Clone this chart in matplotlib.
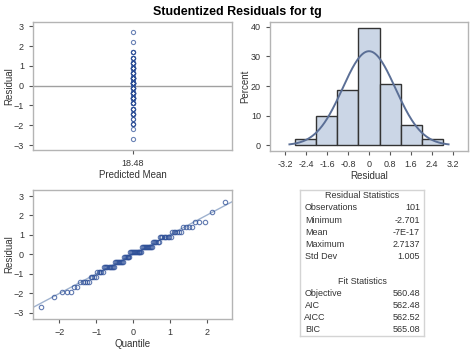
import statistics
import numpy as np
import matplotlib
matplotlib.use("Agg")
import matplotlib.pyplot as plt

plt.rcParams["font.family"] = ["Liberation Sans", "DejaVu Sans"]

# studentized residual levels and how many observations sit at each level
RESID_LEVELS = [-2.701, -2.187, -1.929, -1.671, -1.413, -1.156, -0.898, -0.640,
                -0.382, -0.124, 0.134, 0.392, 0.650, 0.908, 1.166, 1.424,
                1.682, 2.198, 2.7137]
RESID_COUNTS = [1, 1, 3, 2, 5, 4, 5, 10, 9, 7, 13, 11, 6, 9, 6, 4, 3, 1, 1]
PRED_MEAN = 18.48
RESID_SD = 1.005

HIST_EDGES = [-2.8, -2.0, -1.2, -0.4, 0.4, 1.2, 2.0, 2.8]
HIST_TICKS = [-3.2, -2.4, -1.6, -0.8, 0, 0.8, 1.6, 2.4, 3.2]

STAT_ROWS = [("Observations", "101"), ("Minimum", "-2.701"), ("Mean", "-7E-17"),
             ("Maximum", "2.7137"), ("Std Dev", "1.005")]
FIT_ROWS = [("Objective", "560.48"), ("AIC", "562.48"), ("AICC", "562.52"),
            ("BIC", "565.08")]

W, H = 474, 353
FRAME = "#b4b4b4"
TXT = "#333333"
MARK = "#2d4f97"


def px_axes(fig, left, top, right, bottom):
    return fig.add_axes([left / W, 1 - bottom / H, (right - left) / W, (bottom - top) / H])


def style(ax, xlab, ylab, xl_y, yl_x):
    for s in ax.spines.values():
        s.set_color(FRAME)
        s.set_linewidth(1.0)
    ax.tick_params(colors="#555555", labelcolor=TXT, labelsize=6.5, length=3, width=0.8)
    ax.set_xlabel(xlab, fontsize=7, color=TXT, va="center")
    ax.set_ylabel(ylab, fontsize=7, color=TXT, va="center")
    ax.xaxis.set_label_coords(0.5, xl_y)
    ax.yaxis.set_label_coords(yl_x, 0.5)


resid = np.repeat(RESID_LEVELS, RESID_COUNTS)
n = len(resid)

fig = plt.figure(figsize=(W / 100, H / 100), dpi=100)
fig.patch.set_facecolor("white")
fig.text(0.5, 1 - 12 / H, "Studentized Residuals for tg", ha="center", va="center",
         fontsize=9, fontweight="bold", color="black")

# residual vs predicted
ax1 = px_axes(fig, 33, 22, 232, 150)
ax1.axhline(0, color="#a0a0a0", lw=1.0, zorder=1)
ax1.plot(np.full(n, PRED_MEAN), resid, "o", mfc="none", mec=MARK, mew=0.8,
         ms=3.0, alpha=0.7, zorder=2)
ax1.set_xlim(PRED_MEAN - 1, PRED_MEAN + 1)
ax1.set_ylim(-3.25, 3.22)
ax1.set_xticks([PRED_MEAN])
ax1.set_xticklabels(["18.48"])
ax1.set_yticks(range(-3, 4))
style(ax1, "Predicted Mean", "Residual", -0.195, -0.119)

# histogram
ax2 = px_axes(fig, 270, 22, 468, 151)
ax2.hist(resid, bins=HIST_EDGES, weights=np.full(n, 100.0 / n),
         color="#cbd6e6", edgecolor="#333333", linewidth=1.0, zorder=2)
xs = np.linspace(-3.03, 3.03, 200)
dens = np.exp(-0.5 * (xs / RESID_SD) ** 2) / (RESID_SD * np.sqrt(2 * np.pi))
ax2.plot(xs, dens * 0.8 * 100, color="#5b6f96", lw=1.4, zorder=3)
ax2.set_xlim(-3.77, 3.77)
ax2.set_ylim(-1.9, 41.6)
ax2.set_xticks(HIST_TICKS)
ax2.set_xticklabels([f"{t:g}" for t in HIST_TICKS])
ax2.set_yticks([0, 10, 20, 30, 40])
style(ax2, "Residual", "Percent", -0.19, -0.126)

# normal quantile plot
ax3 = px_axes(fig, 33, 190, 232, 319)
nd = statistics.NormalDist()
qs = np.array([nd.inv_cdf((i - 0.375) / (n + 0.25)) for i in range(1, n + 1)])
xl = np.array([-2.72, 2.69])
ax3.plot(xl, xl * RESID_SD, color="#9fb2cf", lw=1.0, zorder=1)
ax3.plot(qs, np.sort(resid), "o", mfc="none", mec=MARK, mew=0.8, ms=3.2,
         alpha=0.75, zorder=2)
ax3.set_xlim(-2.72, 2.69)
ax3.set_ylim(-3.33, 3.31)
ax3.set_xticks([-2, -1, 0, 1, 2])
ax3.set_yticks(range(-3, 4))
style(ax3, "Quantile", "Residual", -0.19, -0.119)

# statistics table
ax4 = px_axes(fig, 300, 190, 424, 336)
ax4.set_xlim(0, 124)
ax4.set_ylim(146, 0)
ax4.set_xticks([])
ax4.set_yticks([])
for s in ax4.spines.values():
    s.set_color("#d4d4d4")
    s.set_linewidth(1.0)
fs = 6.5
ax4.text(62, 6, "Residual Statistics", ha="center", va="center", fontsize=fs, color=TXT)
for i, (lab, val) in enumerate(STAT_ROWS):
    y = 18 + i * 12.2
    ax4.text(5, y, lab, ha="left", va="center", fontsize=fs, color=TXT)
    ax4.text(120, y, val, ha="right", va="center", fontsize=fs, color=TXT)
ax4.text(62, 91, "Fit Statistics", ha="center", va="center", fontsize=fs, color=TXT)
for i, (lab, val) in enumerate(FIT_ROWS):
    y = 103 + i * 12.1
    ax4.text(5 if lab != "AICC" else 3.5, y, lab, ha="left", va="center", fontsize=fs, color=TXT)
    ax4.text(120, y, val, ha="right", va="center", fontsize=fs, color=TXT)

fig.savefig("out.png", dpi=100, facecolor="white")
plt.close(fig)
